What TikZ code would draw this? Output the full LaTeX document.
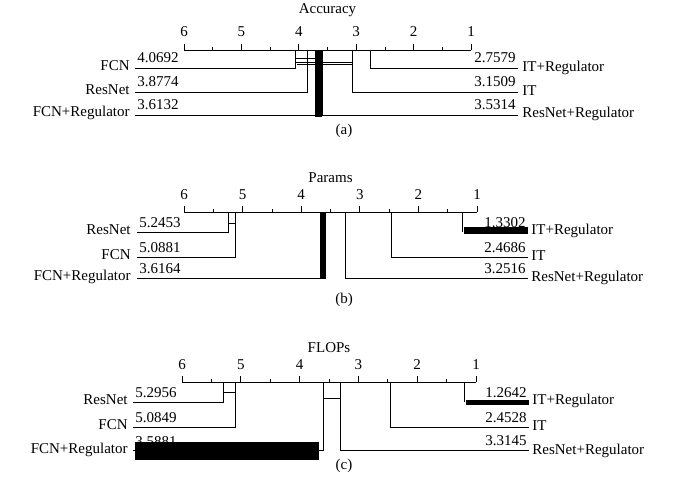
\documentclass[tikz,border=0pt]{standalone}
\usepackage{fontspec}
\setmainfont{Liberation Serif}
\begin{document}
\begin{tikzpicture}[x=1pt,y=-1pt,line width=0.8pt,
  lab/.style={font=\fontsize{15}{15}\selectfont,inner sep=1pt},
  num/.style={font=\fontsize{15}{15}\selectfont,inner sep=1pt,anchor=base}]
\useasboundingbox (0,0) rectangle (687,492);
% generic axis: #1=x at 6, #2=x at 1, #3=y, #4 title, #5 title y
\newcommand{\cdaxis}[5]{%
  \draw (#1,#3) -- (#2,#3);
  \foreach \r in {1,...,6}{
    \pgfmathsetmacro{\xx}{#2-(\r-1)*(#2-#1)/5}
    \draw (\xx,#3) -- (\xx,#3-6);
    \node[lab,anchor=base] at (\xx,#3-13) {\r};}
  \foreach \r in {1.5,2.5,3.5,4.5,5.5}{
    \pgfmathsetmacro{\xx}{#2-(\r-1)*(#2-#1)/5}
    \draw (\xx,#3) -- (\xx,#3-3);}
  \node[lab,anchor=base] at ({(#1+#2)/2},#5) {#4};}
% (a)
\cdaxis{184}{471}{50}{Accuracy}{14}
\draw (295,50) -- (295,68) -- (135,68);
\draw (307,50) -- (307,92) -- (135,92);
\draw (318,50) -- (318,115) -- (135,115);
\draw (370,50) -- (370,68) -- (518,68);
\draw (352,50) -- (352,92) -- (518,92);
\draw (322,50) -- (322,115) -- (518,115);
\draw (295,58) -- (315,58); \draw (295,62) -- (352,62); \draw (297,64) -- (352,64);
\fill (315,50) rectangle (322,117);
\node[num,anchor=base west] at (136,63) {4.0692};
\node[num,anchor=base west] at (136,87) {3.8774};
\node[num,anchor=base west] at (136,110) {3.6132};
\node[num,anchor=base east] at (517,63) {2.7579};
\node[num,anchor=base east] at (517,87) {3.1509};
\node[num,anchor=base east] at (517,110) {3.5314};
\node[lab,anchor=east] (a1) at (131,66) {FCN};
\node[lab,anchor=east] (a2) at (131,90) {ResNet};
\node[lab,anchor=east] (a3) at (131,113) {FCN+Regulator};
\node[lab,anchor=west] (a4) at (521,68) {IT+Regulator};
\node[lab,anchor=west] (a5) at (521,91) {IT};
\node[lab,anchor=west] (a6) at (521,114) {ResNet+Regulator};
\node[lab] (la) at (344,131) {(a)};
% (b)
\cdaxis{184}{477}{212}{Params}{182}
\draw (228,212) -- (228,232) -- (137,232);
\draw (235.6,212) -- (235.6,257) -- (137,257);
\draw (228,223) -- (235.6,223);
\draw (323,212) -- (323,278) -- (137,278);
\fill (320,212) rectangle (326,279);
\draw (345,212) -- (345,278) -- (528,278);
\draw (391,212) -- (391,257) -- (528,257);
\draw (462,212) -- (462,232);
\fill (464,227) rectangle (528,234);
\node[num,anchor=base west] at (138,227) {5.2453};
\node[num,anchor=base west] at (138,252) {5.0881};
\node[num,anchor=base west] at (138,273) {3.6164};
\node[num,anchor=base east] at (527,227) {1.3302};
\node[num,anchor=base east] at (527,252) {2.4686};
\node[num,anchor=base east] at (527,273) {3.2516};
\node[lab,anchor=east] (b1) at (132,230) {ResNet};
\node[lab,anchor=east] (b2) at (132,255) {FCN};
\node[lab,anchor=east] (b3) at (132,277) {FCN+Regulator};
\node[lab,anchor=west] (b4) at (530,231) {IT+Regulator};
\node[lab,anchor=west] (b5) at (530,256) {IT};
\node[lab,anchor=west] (b6) at (530,278) {ResNet+Regulator};
\node[lab] (lb) at (344,300) {(b)};
% (c)
\cdaxis{182}{476}{382}{FLOPs}{352}
\draw (223,382) -- (223,402) -- (133,402);
\draw (235.4,382) -- (235.4,427) -- (133,427);
\draw (223,392) -- (235.4,392);
\node[num,anchor=base west] at (134,446) {3.5881};
\draw (323.6,382) -- (323.6,450) -- (133,450);
\draw (340,382) -- (340,450) -- (529,450);
\draw (323.6,398) -- (340,398);
\fill (135,442) rectangle (319,460);
\draw (390,382) -- (390,427) -- (529,427);
\draw (464,382) -- (464,402);
\fill (466,400) rectangle (529,405);
\node[num,anchor=base west] at (134,397) {5.2956};
\node[num,anchor=base west] at (134,422) {5.0849};
\node[num,anchor=base east] at (528,397) {1.2642};
\node[num,anchor=base east] at (528,422) {2.4528};
\node[num,anchor=base east] at (528,445) {3.3145};
\node[lab,anchor=east] (c1) at (129,400) {ResNet};
\node[lab,anchor=east] (c2) at (129,425) {FCN};
\node[lab,anchor=east] (c3) at (129,450) {FCN+Regulator};
\node[lab,anchor=west] (c4) at (531,401) {IT+Regulator};
\node[lab,anchor=west] (c5) at (531,426) {IT};
\node[lab,anchor=west] (c6) at (531,451) {ResNet+Regulator};
\node[lab] (lc) at (344,466) {(c)};
\end{tikzpicture}
\end{document}
